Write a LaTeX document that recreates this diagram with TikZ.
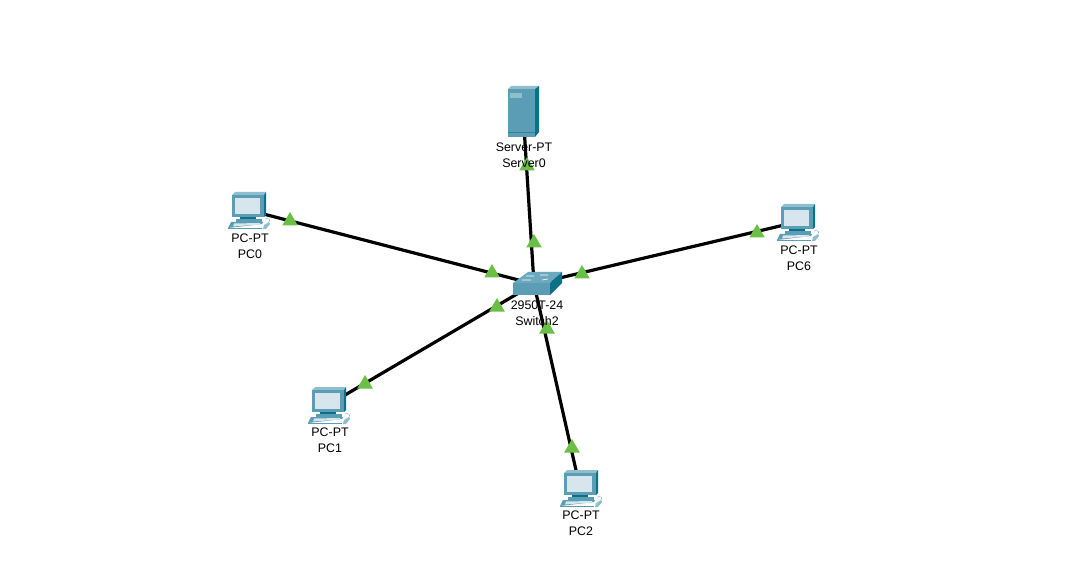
\documentclass[tikz,border=0pt]{standalone}
\usepackage{fontspec}
\setmainfont{Liberation Sans}
\usetikzlibrary{shapes.geometric}
\definecolor{teal1}{HTML}{5A9DB5}
\definecolor{teal2}{HTML}{0B7088}
\definecolor{teal3}{HTML}{8FBECE}
\definecolor{screenc}{HTML}{D6E6EC}
\definecolor{trig}{HTML}{6ABF45}
\tikzset{
  x=1pt,y=-1pt,
  linkline/.style={draw=black,line width=3.2pt},
  trimark/.style={regular polygon,regular polygon sides=3,fill=trig,draw=none,minimum size=18pt,inner sep=0pt},
  devlabel/.style={align=center,font=\fontsize{12.4}{16}\selectfont,text=black,inner sep=0pt},
  pcicon/.pic={
    \fill[teal3] (-16,-15) -- (-13,-18) -- (18,-18) -- (16,-15) -- cycle;
    \fill[teal2] (16,-15) -- (18,-18) -- (18,5) -- (16,7) -- cycle;
    \fill[teal1] (-16,-15) rectangle (16,7);
    \fill[screenc] (-13,-12) rectangle (12,4);
    \fill[teal2] (-8,7) rectangle (8,9);
    \fill[teal1] (-12,9) rectangle (14,12);
    \fill[teal1] (-17,12) -- (15,12) -- (14,14) -- (-20,18) -- cycle;
    \fill[screenc] (-14,13.5) -- (12,13) -- (12,14.5) -- (-15,16.5) -- cycle;
    \fill[teal1] (-20,18) rectangle (14,19);
    \fill[teal3] (16,15) -- (21,12) -- (22,14) -- (18,19) -- (15,19) -- cycle;
    \draw[teal3,line width=.6pt] (21,12) .. controls (23,9) and (20,8) .. (17,9);
  },
  servericon/.pic={
    \fill[teal3] (-15,-22) -- (-12,-25) -- (16,-25) -- (12,-22) -- cycle;
    \fill[teal2] (12,-22) -- (16,-25) -- (16,21) -- (12,26) -- cycle;
    \fill[teal1] (-15,-22) rectangle (12,26);
    \fill[teal3] (-13,-18) rectangle (-1,-13);
    \fill[teal2!60!teal1] (-15,21) rectangle (12,22);
  },
  switchicon/.pic={
    \fill[teal1!65!teal3] (-21,-1) -- (-6,-12) -- (28,-12) -- (16,-1) -- cycle;
    \fill[teal2] (16,-1) -- (28,-12) -- (28,-1) -- (16,11) -- cycle;
    \fill[teal1] (-21,-1) rectangle (16,11);
    \draw[white,line width=.6pt] (-8,-8) -- (0,-8) (6,-9) -- (14,-9) (-12,-4) -- (-3,-4) (8,-4) -- (14,-5);
  },
}
\begin{document}
\begin{tikzpicture}
\useasboundingbox (0,0) rectangle (1065,569);
\fill[white] (0,0) rectangle (1065,569);
\coordinate (server0) at (523,111);
\coordinate (switch2) at (534,284);
\coordinate (pc0) at (248,210);
\coordinate (pc1) at (328,405);
\coordinate (pc2) at (580,488);
\coordinate (pc6) at (797,222);
\draw[linkline] (pc0) -- (switch2);
\draw[linkline] (pc1) -- (switch2);
\draw[linkline] (pc2) -- (switch2);
\draw[linkline] (pc6) -- (switch2);
\draw[linkline] (server0) -- (switch2);
\pic at (pc0) {pcicon};
\pic at (pc1) {pcicon};
\pic at (pc2) {pcicon};
\pic at (pc6) {pcicon};
\pic at (server0) {servericon};
\pic at (switch2) {switchicon};
\node[trimark] (t1) at (290,221) {};
\node[trimark] (t2) at (492,273) {};
\node[trimark] (t3) at (534,243) {};
\node[trimark] (t4) at (527,166) {};
\node[trimark] (t5) at (757,233) {};
\node[trimark] (t6) at (582,274) {};
\node[trimark] (t7) at (497,307) {};
\node[trimark] (t8) at (365,384) {};
\node[trimark] (t9) at (547,329) {};
\node[trimark] (t10) at (572,448) {};
\node[devlabel] (l0) at (250,246) {PC-PT\\PC0};
\node[devlabel] (l1) at (330,440) {PC-PT\\PC1};
\node[devlabel] (l2) at (581,523) {PC-PT\\PC2};
\node[devlabel] (l6) at (799,258) {PC-PT\\PC6};
\node[devlabel] (ls) at (524,155) {Server-PT\\Server0};
\node[devlabel] (lw) at (537,313) {2950T-24\\Switch2};
\end{tikzpicture}
\end{document}
